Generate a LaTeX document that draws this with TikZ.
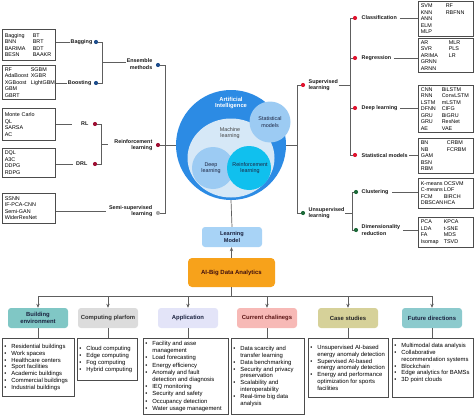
\documentclass[tikz,border=0pt]{standalone}
\usepackage{fontspec}
\setmainfont{Liberation Sans}
\usetikzlibrary{arrows.meta,shapes.geometric}

\definecolor{linegray}{HTML}{5E5E5E}
\definecolor{aiblue}{HTML}{2C8BE4}
\definecolor{mlblue}{HTML}{D6E8F7}
\definecolor{smblue}{HTML}{9CCBF3}
\definecolor{rlcyan}{HTML}{10C0EE}
\definecolor{lmblue}{HTML}{A8D3F6}
\definecolor{aiorange}{HTML}{F7A21B}
\definecolor{bldteal}{HTML}{80C7C5}
\definecolor{cmpgray}{HTML}{DCDCDC}
\definecolor{applav}{HTML}{E3E4F8}
\definecolor{curpink}{HTML}{F7B9B6}
\definecolor{caskhaki}{HTML}{D6D199}
\definecolor{futteal}{HTML}{8CCACD}
\definecolor{dotblue}{HTML}{1F4E8C}
\definecolor{dotred}{HTML}{9E1034}
\definecolor{dotbright}{HTML}{E0142F}
\definecolor{dotgreen}{HTML}{1E6B3A}
\definecolor{dotgray}{HTML}{A8A8A8}
\definecolor{navytext}{HTML}{1B2340}
\definecolor{redtext}{HTML}{5A1414}

\newcommand\cc[2][26pt]{\makebox[#1][l]{#2}}
\newcommand\bi{\makebox[7pt][l]{\textbullet}}
\newcommand\bc{\hspace*{7pt}}
\newcommand\blst[4]{\parbox[c][#2][#3]{#1}{\raggedright #4}}

\tikzset{
 conn/.style={draw=linegray, line width=0.7pt},
 lbox/.style={draw=black!70, line width=0.7pt, fill=white, anchor=north west, align=left,
   font=\fontsize{5.4}{6.5}\selectfont, inner xsep=2.5pt, inner ysep=1pt},
 blist/.style={draw=black!70, line width=0.7pt, fill=white, anchor=north west,
   font=\fontsize{5.9}{6.8}\selectfont, inner xsep=2pt, inner ysep=2pt},
 lab/.style={font=\bfseries\fontsize{5.4}{6.2}\selectfont, inner sep=0.5pt, text=black!90},
 dotn/.style={circle, fill=#1, inner sep=0pt, minimum size=4.2pt},
 cat/.style={rounded corners=3pt, fill=#1, minimum width=60pt, minimum height=20pt,
   font=\bfseries\fontsize{5.9}{6.8}\selectfont, align=center, inner sep=1pt},
 arr/.style={conn, -{Stealth[length=4pt,width=3.4pt]}},
 ctext/.style={font=\fontsize{5.4}{6.2}\selectfont, align=center, inner sep=0pt},
}

\begin{document}
\begin{tikzpicture}[x=1pt,y=-1pt]
\useasboundingbox (0,0) rectangle (474,415);

% ---------------- left list boxes
\node[lbox, text width=48pt, minimum height=31pt] (bagbox) at (2,29)
 {\cc[28pt]{Bagging}BT\\\cc[28pt]{BNN}BRT\\\cc[28pt]{BARIMA}BDT\\\cc[28pt]{BESN}BAAKR};
\node[lbox, text width=48pt, minimum height=34pt] (boostbox) at (2,65)
 {\cc{RF}SGBM\\\cc{AdaBoost}XGBR\\\cc{XGBoost}LightGBM\\GBM\\GBRT};
\node[lbox, text width=48pt, minimum height=32pt] (rlbox) at (2,108)
 {Monte Carlo\\QL\\SARSA\\AC};
\node[lbox, text width=48pt, minimum height=29pt] (drlbox) at (2,148)
 {DQL\\A3C\\DDPG\\RDPG};
\node[lbox, text width=48pt, minimum height=30pt] (semibox) at (2,193)
 {SSNN\\IF-PCA-CNN\\Semi-GAN\\WiderResNet};

% left labels
\node[lab, anchor=east] (bagl) at (93,42) {Bagging};
\node[lab, anchor=east] (boostl) at (92,83) {Boosting};
\node[lab, anchor=east, align=right] (ensl) at (153,64) {Ensemble\\methods};
\node[lab, anchor=east] (rll) at (89,124) {RL};
\node[lab, anchor=east] (drll) at (88,164) {DRL};
\node[lab, anchor=east, align=right] (rlsl) at (153,145) {Reinforcement\\learning};
\node[lab, anchor=east, align=right] (semil) at (153,211) {Semi-supervised\\learning};

% left dots
\node[dotn=dotblue] (bagd) at (96,42) {};
\node[dotn=dotblue] (boostd) at (96,83) {};
\node[dotn=dotblue] (ensd) at (158,65) {};
\node[dotn=dotred] (rld) at (95,124) {};
\node[dotn=dotred] (drld) at (95,164) {};
\node[dotn=dotred] (rlsd) at (158,145) {};
\node[dotn=dotgray] (semid) at (158,213) {};

\coordinate (ensm) at (102,62.5);
\coordinate (rlm) at (101,144);
\coordinate (lvtop) at (165,65);
\coordinate (lvbot) at (165,213);

% ---------------- center circles
\node[circle, fill=aiblue, minimum size=110pt, inner sep=0pt] (ai) at (231,145) {};
\node[ellipse, fill=mlblue, minimum width=87pt, minimum height=79pt, inner sep=0pt] (ml) at (231,158) {};
\node[circle, fill=smblue, minimum size=41pt, inner sep=0pt] (smc) at (270,122) {};
\node[circle, fill=smblue, minimum size=42pt, inner sep=0pt] (dlc) at (213,168) {};
\node[circle, fill=rlcyan, minimum size=44pt, inner sep=0pt] (rlc) at (249,168) {};
\node[ctext, font=\bfseries\fontsize{5.8}{6.7}\selectfont, text=white] (ait) at (231,103) {Artificial\\Intelligence};
\node[ctext, text=black!75] (mlt) at (230,133) {Machine\\learning};
\node[ctext, text=navytext] (smt) at (270,122) {Statistical\\models};
\node[ctext, text=navytext] (dlt) at (211,168) {Deep\\learning};
\node[ctext, text=navytext] (rlt) at (250,168) {Reinforcement\\learning};

% ---------------- right side
\node[dotn=dotbright] (supd) at (303,85) {};
\node[dotn=dotgreen] (unsd) at (303,213) {};
\node[lab, anchor=west, align=left] (supl) at (308,85) {Supervised\\learning};
\node[lab, anchor=west, align=left] (unsl) at (308,213) {Unsupervised\\learning};
\coordinate (rvtop) at (297,85);
\coordinate (rvbot) at (297,213);
\coordinate (rvmid) at (297,145);

\node[dotn=dotbright] (clsd) at (355,18) {};
\node[dotn=dotbright] (regd) at (355,58) {};
\node[dotn=dotbright] (dld) at (355,108) {};
\node[dotn=dotbright] (stmd) at (355,155) {};
\node[dotn=dotgreen] (clud) at (356,192) {};
\node[dotn=dotgreen] (dimd) at (356,230) {};
\coordinate (sbtop) at (350,18);
\coordinate (sbbot) at (350,155);
\coordinate (sbmid) at (350,85);
\coordinate (sbreg) at (350,58);
\coordinate (sbdl) at (350,108);
\coordinate (ubtop) at (352,192);
\coordinate (ubbot) at (352,230);
\coordinate (ubmid) at (352,213);

\node[lab, anchor=west] (clsl) at (361,18) {Classification};
\node[lab, anchor=west] (regl) at (361,58) {Regression};
\node[lab, anchor=west] (dll) at (361,108) {Deep learning};
\node[lab, anchor=west] (stml) at (361,155.5) {Statistical models};
\node[lab, anchor=west] (clul) at (361,192) {Clustering};
\node[lab, anchor=west, align=left] (diml) at (361,230) {Dimensionality\\reduction};

\node[lbox, text width=50pt, minimum height=35pt] (clsbox) at (418,1)
 {\cc[25pt]{SVM}RF\\\cc[25pt]{KNN}RBFNN\\ANN\\ELM\\MLP};
\node[lbox, text width=50pt, minimum height=34pt] (regbox) at (418,38)
 {\cc[28pt]{AR}MLR\\\cc[28pt]{SVR}PLS\\\cc[28pt]{ARIMA}LR\\GRNN\\ARNN};
\node[lbox, text width=50pt, minimum height=47pt] (dlbox) at (418,85)
 {\cc[21pt]{CNN}BiLSTM\\\cc[21pt]{RNN}ConvLSTM\\\cc[21pt]{LSTM}mLSTM\\\cc[21pt]{DFNN}CIFG\\\cc[21pt]{GRU}BiGRU\\\cc[21pt]{GRU}ResNet\\\cc[21pt]{AE}VAE};
\node[lbox, text width=50pt, minimum height=35pt] (stmbox) at (418,138)
 {\cc[26pt]{BN}CRBM\\\cc[26pt]{NB}FCRBM\\GAM\\BSN\\RBM};
\node[lbox, text width=50pt, minimum height=30pt] (clubox) at (418,178)
 {\cc[23pt]{K-means}OCSVM\\\cc[23pt]{C-means}LOF\\\cc[23pt]{FCM}BIRCH\\\cc[23pt]{DBSCAN}HCA};
\node[lbox, text width=50pt, minimum height=30pt] (dimbox) at (418,217)
 {\cc[23pt]{PCA}KPCA\\\cc[23pt]{LDA}t-SNE\\\cc[23pt]{FA}MDS\\\cc[23pt]{Isomap}TSVD};

% ---------------- bottom part
\node[rounded corners=3pt, fill=lmblue, minimum width=60pt, minimum height=20pt, inner sep=1pt,
  align=center, font=\bfseries\fontsize{5.6}{6.5}\selectfont, text=navytext] (lm) at (232,237) {Learning\\Model};
\node[rounded corners=4pt, fill=aiorange, minimum width=87pt, minimum height=29pt, inner sep=1pt,
  font=\bfseries\fontsize{6}{7}\selectfont, text=redtext!70!black] (aib) at (231.5,272.5) {AI-Big Data Analytics};
\coordinate (busl) at (38,296);
\coordinate (busr) at (432,296);
\coordinate (busm) at (231.5,296);

\node[cat=bldteal, text=navytext] (bld) at (38,318) {Building\\environment};
\node[cat=cmpgray, text=black!80] (cmp) at (108,318) {Computing plarfom};
\node[cat=applav, text=navytext] (app) at (188,318) {Application};
\node[cat=curpink, text=redtext] (cur) at (267,318) {Current chalinegs};
\node[cat=caskhaki, text=black!85] (cas) at (348,318) {Case studies};
\node[cat=futteal, text=navytext] (fut) at (432,318) {Future directions};

\node[blist] (bldl) at (2,338) {\blst{68pt}{54pt}{c}{%
\bi Residential buildings\\\bi Work spaces\\\bi Healthcare centers\\\bi Sport facilities\\\bi Academic buildings\\\bi Commercial buildings\\\bi Industrial buildings}};
\node[blist] (cmpl) at (77,338) {\blst{56pt}{38pt}{c}{%
\bi Cloud computing\\\bi Edge computing\\\bi Fog computing\\\bi Hybrid computing}};
\node[blist, font=\fontsize{5.9}{7.2}\selectfont] (appl) at (143,338) {\blst{81pt}{72pt}{c}{%
\bi Facility and asse\\\bc management\\\bi Load forecasting\\\bi Energy efficiency\\\bi Anomaly and fault\\\bc detection and diagnosis\\\bi IEQ monitoring\\\bi Security and safety\\\bi Occupancy detection\\\bi Water usage management}};
\node[blist] (curl) at (231,338) {\blst{69pt}{72pt}{c}{%
\bi Data scarcity and\\\bc transfer learning\\\bi Data benchmarking\\\bi Security and privacy\\\bc preservation\\\bi Scalability and\\\bc interoperability\\\bi Real-time big data\\\bc analysis}};
\node[blist] (casl) at (308,338) {\blst{76pt}{55pt}{c}{%
\bi Unsupervised AI-based\\\bc energy anomaly detection\\\bi Supervised AI-based\\\bc energy anomaly detection\\\bi Energy and performance\\\bc optimization for sports\\\bc facilities}};
\node[blist] (futl) at (392,338) {\blst{77pt}{55pt}{t}{\vspace*{3pt}%
\bi Multimodal data analysis\\\bi Collaborative\\\bc recommendation systems\\\bi Blockchain\\\bi Edge analytics for BAMSs\\\bi 3D point clouds}};

% ---------------- connectors (left)
\draw[conn] (bagl.west -| bagbox.east) -- (bagl.west);
\draw[conn] (boostl.west -| boostbox.east) -- (boostl.west);
\draw[conn] (bagd) -- (bagd -| ensm) |- (boostd);
\draw[conn] (ensm) -- (ensm -| ensl.west);
\draw[conn] (rll.west -| rlbox.east) -- ([xshift=-8pt]rll.west);
\draw[conn] (drll.west -| drlbox.east) -- ([xshift=-3pt]drll.west);
\draw[conn] (rld) -- (rld -| rlm) |- (drld);
\draw[conn] (rlm) -- ([xshift=-6pt]rlm -| rlsl.west);
\draw[conn] (semil.west -| semibox.east) -- ([xshift=-2pt]semil.west |- semil.west);
\draw[conn] (ensd) -- (lvtop) -- (lvbot) -- (semid);
\draw[conn] (rlsd) -- (ai.west);

% ---------------- connectors (right)
\draw[conn] (ai.east) -- (rvmid);
\draw[conn] (supd) -- (rvtop) -- (rvbot) -- (unsd);
\draw[conn] (supl.east |- sbmid) -- (sbmid);
\draw[conn] (clsd) -- (sbtop) -- (sbbot) -- (stmd);
\draw[conn] (regd) -- (sbreg);
\draw[conn] (dld) -- (sbdl);
\draw[conn] (unsl.east |- ubmid) -- (ubmid);
\draw[conn] (clud) -- (ubtop) -- (ubbot) -- (dimd);
\draw[conn] ([xshift=2pt]clsl.east) -- (clsl.east -| clsbox.west);
\draw[conn] ([xshift=2pt]regl.east) -- (regl.east -| regbox.west);
\draw[conn] ([xshift=2pt]dll.east) -- (dll.east -| dlbox.west);
\draw[conn] ([xshift=1pt]stml.east) -- (stml.east -| stmbox.west);
\draw[conn] ([xshift=3pt]clul.east) -- (clul.east -| clubox.west);
\draw[conn] ([xshift=2pt]diml.east) -- (diml.east -| dimbox.west);

% ---------------- connectors (bottom)
\draw[conn] (ai.south) -- (lm.north);
\draw[arr] (aib.north) -- (aib.north |- lm.south);
\draw[conn] (aib.south) -- (busm);
\draw[conn] (busl) -- (busr);
\foreach \n in {bld,cmp,app,cur,cas,fut}{
  \draw[arr] (\n.north |- busl) -- (\n.north);
  \draw[conn] (\n.south) -- (\n.south |- \n l.north);
}
\end{tikzpicture}
\end{document}
